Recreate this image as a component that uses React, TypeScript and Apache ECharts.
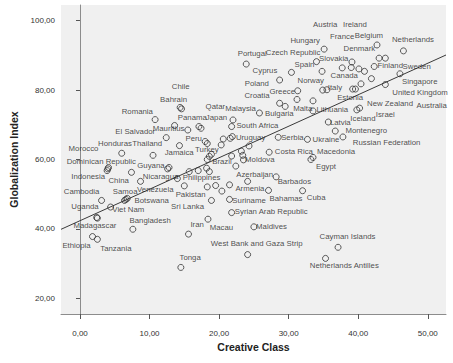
import React, { useEffect, useRef } from "react";
import * as echarts from "echarts";

// ---- data ----
const countries = [
  "Austria", "Ireland", "Hungary", "France", "Belgium", "Netherlands", "Portugal", "Czech Republic",
  "Denmark", "Slovakia", "Spain", "Finland", "Sweden", "Cyprus", "Canada", "Norway", "Poland",
  "Singapore", "United Kingdom", "Italy", "Greece", "Croatia", "Estonia", "Malta", "Lithuania",
  "New Zealand", "Australia", "Israel", "Iceland", "Bulgaria", "Malaysia", "Qatar", "Chile",
  "Bahrain", "Romania", "El Salvador", "Mauritius", "Panama", "Japan", "South Africa", "Peru",
  "Uruguay", "Serbia", "Ukraine", "Russian Federation", "Montenegro", "Latvia", "Costa Rica",
  "Macedonia", "Egypt", "Moldova", "Turkey", "Jamaica", "Thailand", "Brazil", "Guyana",
  "Nicaragua", "Philippines", "Azerbaijan", "Barbados", "Bahamas", "Cuba", "Armenia", "Suriname",
  "Syrian Arab Republic", "Pakistan", "Sri Lanka", "Iran", "Macau", "Maldives",
  "West Bank and Gaza Strip", "Tonga", "Cayman Islands", "Netherlands Antilles", "Venezuela",
  "Botswana", "Samoa", "Bangladesh", "Viet Nam", "Morocco", "Honduras", "Dominican Republic",
  "Indonesia", "China", "Cambodia", "Uganda", "Madagascar", "Ethiopia", "Tanzania",
];

const creativeClass = [
  39.1, 40.1, 35.1, 43.0, 42.7, 46.5, 23.9, 34.8,
  43.9, 37.7, 34.0, 42.3, 46.0, 30.4, 39.0, 34.9, 28.7,
  41.9, 40.9, 35.5, 31.3, 31.2, 39.2, 29.5, 33.5,
  43.9, 40.4, 40.2, 39.8, 25.8, 22.0, 17.4, 14.4,
  14.6, 10.8, 12.4, 13.6, 15.5, 17.1, 21.8, 18.0,
  21.9, 28.5, 32.7, 37.8, 36.7, 35.7, 27.2,
  33.5, 33.2, 23.5, 20.3, 14.3, 10.5, 18.3, 12.6,
  8.7, 14.0, 24.1, 28.2, 27.1, 32.0, 21.5, 21.5,
  21.8, 15.0, 18.9, 15.6, 18.4, 25.0,
  24.1, 14.5, 37.1, 35.3, 6.8,
  6.4, 6.6, 7.6, 4.4, 4.1, 6.0, 4.0,
  3.9, 7.4, 3.1, 2.4, 2.5, 1.8, 2.5,
];

const globalization = [
  88.1, 86.1, 91.8, 89.2, 93.0, 91.3, 87.5, 85.4,
  89.2, 86.4, 88.2, 86.8, 84.7, 85.1, 86.5, 80.0, 82.9,
  83.3, 85.4, 80.1, 79.8, 77.3, 80.3, 75.3, 74.0,
  81.6, 81.8, 74.8, 74.3, 73.4, 71.4, 69.0, 75.0,
  74.6, 71.5, 66.3, 69.8, 68.5, 69.5, 69.5, 65.2,
  66.6, 66.4, 65.8, 66.5, 68.2, 70.8, 62.1,
  60.6, 60.0, 59.9, 64.2, 64.0, 61.2, 60.0, 57.3,
  53.7, 54.5, 53.7, 55.0, 51.1, 51.0, 52.7, 48.5,
  44.7, 52.4, 48.2, 38.5, 42.8, 40.6,
  32.6, 28.9, 34.7, 31.5, 48.8,
  48.2, 48.5, 39.9, 46.3, 57.7, 61.8, 57.3,
  56.8, 56.3, 48.2, 43.3, 43.1, 37.8, 37.0,
];

// points whose labels are not shown in the reference
const unlabeledCreative = [39.6, 33.5, 28.7, 18.3, 21.6, 20.6, 24.3, 18.6, 18.9, 21.8, 23.2, 23.4, 22.4, 12.8, 15.7, 17.0, 18.2, 18.6, 18.3, 19.5, 20.4];
const unlabeledGlobal = [80.3, 76.9, 76.2, 64.6, 66.1, 65.9, 63.9, 60.9, 61.5, 61.0, 62.4, 61.2, 58.1, 57.7, 56.5, 56.8, 57.5, 56.5, 52.1, 52.5, 50.9];

// fit line
const fitIntercept = 42.36;
const fitSlope = 0.9075;

const xTicks = [0, 10, 20, 30, 40, 50];
const yTicks = [20, 40, 60, 80, 100];

// ---- layout (label placement relative to its point, pixels) ----
const labelOffsets: Record<string, [number, number]> = {
  "Austria": [-26.7, -37], "Ireland": [-4, -44], "Hungary": [-19, -8.6], "France": [-37, -21.3],
  "Belgium": [-8.1, -9], "Netherlands": [9.5, -11], "Portugal": [6, -10.7], "Czech Republic": [-29, -18.6],
  "Denmark": [-26, -9.3], "Slovakia": [-8.5, -9.3], "Spain": [-12, 3.3], "Finland": [16, -0.5],
  "Sweden": [16.7, -7.7], "Cyprus": [-26.5, -1.5], "Canada": [-7, 7.5], "Norway": [-12, -10],
  "Poland": [-22.8, 3.3], "Singapore": [48.3, 3.2], "United Kingdom": [55.5, 20.8], "Italy": [8, -2.4],
  "Greece": [-15.5, 0.3], "Croatia": [-40, -3.6], "Estonia": [-2.5, 8.3], "Malta": [17.5, 1.7],
  "Lithuania": [19.3, -1], "New Zealand": [4.7, 18.6], "Australia": [70.7, 21.3], "Israel": [25.7, 6.7],
  "Iceland": [6.1, 8.3], "Bulgaria": [19.9, 1], "Malaysia": [7.5, -11.7], "Qatar": [14.3, -21.6],
  "Chile": [0.5, -20.8], "Bahrain": [-8, -9], "Romania": [-17.8, -8.5], "El Salvador": [-31, -6],
  "Mauritius": [-6, 3.5], "Panama": [4.5, -12.7], "Japan": [17.5, -9.4], "South Africa": [25.8, -0.8],
  "Peru": [-11.5, -3.2], "Uruguay": [18.3, 0.6], "Serbia": [14.2, 0.1], "Ukraine": [18.5, -0.3],
  "Russian Federation": [43.7, 6], "Montenegro": [31, -0.7], "Latvia": [12, 0], "Costa Rica": [24.7, -0.6],
  "Macedonia": [23, -5.6], "Egypt": [15, 7.2], "Moldova": [16.4, -0.7], "Turkey": [-14.3, 5],
  "Jamaica": [-0.3, 7.2], "Thailand": [-5.8, -12], "Brazil": [14.7, 2.2], "Guyana": [-16.7, -3],
  "Nicaragua": [20.1, -4.8], "Philippines": [24.2, -0.8], "Azerbaijan": [7, -6.8], "Barbados": [18.2, 4.3],
  "Bahamas": [17.5, 7.8], "Cuba": [13.6, 6.6], "Armenia": [20.4, 4], "Suriname": [19.5, 1],
  "Syrian Arab Republic": [39.6, -0.7], "Pakistan": [6.3, 8.2], "Sri Lanka": [-23.9, 5.7], "Iran": [8.6, -10],
  "Macau": [13.4, 8], "Maldives": [17.6, -0.7], "West Bank and Gaza Strip": [9.1, -10.7], "Tonga": [9.3, -10],
  "Cayman Islands": [9.5, -10.6], "Netherlands Antilles": [18.8, 7.4], "Venezuela": [28, -9.2],
  "Botswana": [27.2, 0.2], "Samoa": [-0.7, -8.3], "Bangladesh": [17.3, -8.8], "Viet Nam": [17.7, 2.5],
  "Morocco": [-25, -19.2], "Honduras": [-6.7, -10], "Dominican Republic": [-6.5, -7.3], "Indonesia": [-19, 6.3],
  "China": [-12.8, 7.7], "Cambodia": [-20, -8.6], "Uganda": [-11.7, -11.3], "Madagascar": [-2.5, 7],
  "Ethiopia": [-16, 9.3], "Tanzania": [18.5, 9.2],
};

const X_MIN = -2.73;
const X_MAX = 52.62;
const Y_MIN = 15.48;
const Y_MAX = 104.52;

const FONT = "'Liberation Sans', Arial, Helvetica, sans-serif";
const fmt = (v: number) => v.toFixed(2).replace(".", ",");

export default function App() {
  const ref = useRef<HTMLDivElement>(null);

  useEffect(() => {
    if (!ref.current) return;
    const chart = echarts.init(ref.current, undefined, { renderer: "svg" });

    const circleStyle = {
      color: "rgba(0,0,0,0)",
      borderColor: "#333333",
      borderWidth: 1,
    };

    const labeled = countries.map((c, i) => ({
      name: c,
      value: [creativeClass[i], globalization[i]],
    }));
    const unlabeled = unlabeledCreative.map((x, i) => [x, unlabeledGlobal[i]]);

    chart.setOption({
      animation: false,
      backgroundColor: "#ffffff",
      grid: {
        left: 61,
        right: 7,
        top: 5,
        bottom: 49,
        show: true,
        backgroundColor: "#f0f0f0",
        borderWidth: 0,
      },
      xAxis: {
        type: "value",
        min: X_MIN,
        max: X_MAX,
        name: "Creative Class",
        nameLocation: "middle",
        nameGap: 25,
        nameTextStyle: {
          fontFamily: FONT,
          fontWeight: "bold",
          fontSize: 10.5,
          color: "#222",
          verticalAlign: "middle",
        },
        axisLine: { show: true, lineStyle: { color: "#8c8c8c", width: 1 } },
        axisTick: { show: true, length: 5, customValues: xTicks, lineStyle: { color: "#555" } },
        axisLabel: {
          customValues: xTicks,
          formatter: (v: number) => fmt(v),
          fontFamily: FONT,
          fontSize: 8,
          color: "#333",
          margin: 15,
        },
        splitLine: { show: false },
      },
      yAxis: {
        type: "value",
        min: Y_MIN,
        max: Y_MAX,
        name: "Globalization Index",
        nameLocation: "middle",
        nameGap: 40,
        nameTextStyle: {
          fontFamily: FONT,
          fontWeight: "bold",
          fontSize: 10.5,
          color: "#222",
          verticalAlign: "middle",
        },
        axisLine: { show: true, lineStyle: { color: "#8c8c8c", width: 1 } },
        axisTick: { show: true, length: 4, customValues: yTicks, lineStyle: { color: "#555" } },
        axisLabel: {
          customValues: yTicks,
          formatter: (v: number) => fmt(v),
          fontFamily: FONT,
          fontSize: 8,
          color: "#333",
          margin: 6,
        },
        splitLine: { show: false },
      },
      series: [
        {
          type: "line",
          data: [
            [X_MIN, fitIntercept + fitSlope * X_MIN],
            [X_MAX, fitIntercept + fitSlope * X_MAX],
          ],
          symbol: "none",
          lineStyle: { color: "#3a3a3a", width: 1 },
          silent: true,
          z: 1,
        },
        {
          type: "scatter",
          data: unlabeled,
          symbol: "circle",
          symbolSize: 6,
          itemStyle: circleStyle,
          silent: true,
          z: 2,
        },
        {
          type: "scatter",
          data: labeled,
          symbol: "circle",
          symbolSize: 6,
          itemStyle: circleStyle,
          silent: true,
          z: 3,
          label: {
            show: true,
            position: "inside",
            formatter: "{b}",
            fontFamily: FONT,
            fontSize: 7.8,
            color: "#222",
            textBorderWidth: 0,
            align: "center",
            verticalAlign: "middle",
          },
          labelLayout: (params: any) => {
            const name = countries[params.dataIndex];
            const off = labelOffsets[name] || [0, -8];
            return { dx: off[0], dy: off[1], hideOverlap: false };
          },
        },
      ],
    });

    return () => chart.dispose();
  }, []);

  return (
    <div
      ref={ref}
      style={{ position: "fixed", left: 0, top: 0, width: 453, height: 363 }}
    />
  );
}
